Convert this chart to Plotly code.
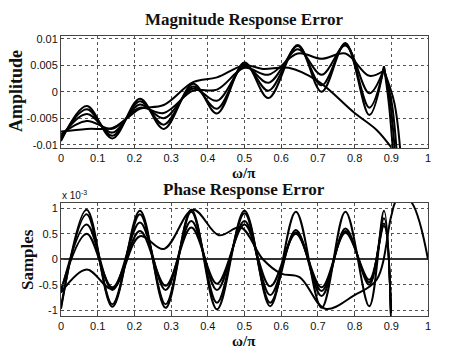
import plotly.graph_objects as go
from plotly.subplots import make_subplots

# ---- Magnitude response error (knots read at ripple extrema) ----
mag_x = [0, 0.07, 0.14, 0.215, 0.28, 0.36, 0.425, 0.5, 0.565, 0.645, 0.71, 0.775, 0.84, 0.88]
mag_a = [-0.0093, -0.0027, -0.0088, -0.0013, -0.0070, 0.0015, -0.0041, 0.0055, -0.0012, 0.0088, 0.0000, 0.0092, -0.0044, 0.0048]
mag_b = [-0.0090, -0.0033, -0.0083, -0.0018, -0.0062, 0.0010, -0.0032, 0.0052, 0.0002, 0.0086, 0.0012, 0.0090, -0.0030, 0.0046]
mag_c = [-0.0085, -0.0042, -0.0077, -0.0024, -0.0050, 0.0006, -0.0017, 0.0048, 0.0017, 0.0080, 0.0032, 0.0087, -0.0003, 0.0043]
mag_d = [-0.0080, -0.0055, -0.0070, -0.0030, -0.0040, 0.0002, 0.0004, 0.0045, 0.0032, 0.0072, 0.0062, 0.0072, 0.0030, 0.0040]
mag_tail_x = [[0.893, 0.905], [0.897, 0.91], [0.901, 0.915], [0.908, 0.925]]
mag_tail_y = [[-0.002, -0.0115], [-0.002, -0.0115], [-0.002, -0.0115], [-0.002, -0.0115]]
mag_s_x = [0, 0.07, 0.14, 0.18, 0.215, 0.28, 0.36, 0.425, 0.5, 0.55, 0.62, 0.7, 0.8, 0.86, 0.9]
mag_s = [-0.0075, -0.0070, -0.0068, -0.0050, -0.0032, -0.0025, 0.0018, 0.0027, 0.0050, 0.0043, 0.0045, 0.0020, -0.0040, -0.0072, -0.0105]

# ---- Phase response error (units of 1e-3 samples) ----
ph_x = [0, 0.07, 0.14, 0.215, 0.285, 0.355, 0.425, 0.5, 0.57, 0.64, 0.71, 0.775, 0.84, 0.88, 0.9]
ph_a = [-0.97, 0.97, -0.93, 0.95, -0.95, 0.97, -0.98, 0.95, -0.92, 0.93, -0.95, 0.93, -0.92, 0.95, -1.3]
ph_b = [-0.93, 0.88, -0.88, 0.88, -0.88, 0.93, -0.85, 0.90, -0.85, 0.57, -0.72, 0.60, -0.50, 0.80, -1.3]
ph_c = [-0.65, 0.68, -0.60, 0.72, -0.60, 0.75, -0.60, 0.75, -0.70, 0.53, -0.62, 0.55, -0.45, 0.70, -1.3]
ph_d = [-0.60, 0.50, -0.55, 0.55, -0.52, 0.62, -0.48, 0.68, -0.53, 0.50, -0.55, 0.52, -0.40, 0.65, -1.3]
ph_s_x = [0, 0.07, 0.14, 0.215, 0.28, 0.36, 0.43, 0.49, 0.55, 0.6, 0.65, 0.72, 0.8, 0.86, 0.9, 0.915, 0.95, 1.0]
ph_s = [-0.65, -0.20, -0.58, 0.45, 0.20, 0.97, 0.47, 0.62, 0.0, -0.28, -0.35, -0.97, -0.70, -0.40, 0.85, 1.15, 1.15, 0.0]

xticks = [0, 0.1, 0.2, 0.3, 0.4, 0.5, 0.6, 0.7, 0.8, 0.9, 1]
xtick_text = ["0", "0.1", "0.2", "0.3", "0.4", "0.5", "0.6", "0.7", "0.8", "0.9", "1"]
mag_ticks = [-0.01, -0.005, 0, 0.005, 0.01]
mag_tick_text = ["-0.01", "-0.005", "0", "0.005", "0.01"]
ph_ticks = [-1, -0.5, 0, 0.5, 1]
ph_tick_text = ["-1", "-0.5", "0", "0.5", "1"]

fig = make_subplots(rows=2, cols=1)
line = dict(color="black", width=2, shape="spline", smoothing=1.0)

for ys in [mag_a, mag_b, mag_c, mag_d]:
    fig.add_trace(go.Scatter(x=mag_x, y=ys, mode="lines", line=line), row=1, col=1)
for i, ys in enumerate([mag_a, mag_b, mag_c, mag_d]):
    fig.add_trace(go.Scatter(x=[mag_x[-1]] + mag_tail_x[i], y=[ys[-1]] + mag_tail_y[i],
                             mode="lines", line=line), row=1, col=1)
fig.add_trace(go.Scatter(x=mag_s_x, y=mag_s, mode="lines", line=line), row=1, col=1)

for ys in [ph_a, ph_b, ph_c, ph_d]:
    fig.add_trace(go.Scatter(x=ph_x, y=ys, mode="lines", line=line), row=2, col=1)
fig.add_trace(go.Scatter(x=ph_s_x, y=ph_s, mode="lines", line=line), row=2, col=1)

axis_common = dict(showline=True, mirror=True, linecolor="#444", linewidth=1,
                   showgrid=True, gridcolor="#555", griddash="dot", gridwidth=1,
                   ticks="inside", ticklen=3, tickcolor="#444", automargin=False,
                   tickfont=dict(family="Liberation Sans, Arial", size=11, color="#111"))

fig.update_xaxes(range=[0, 1], tickvals=xticks, ticktext=xtick_text, zeroline=False, **axis_common)
fig.update_yaxes(range=[-0.0106, 0.0105], tickvals=mag_ticks, ticktext=mag_tick_text,
                 zeroline=False, row=1, col=1, **axis_common)
fig.update_yaxes(range=[-1.11, 1.1], tickvals=ph_ticks, ticktext=ph_tick_text,
                 zeroline=True, zerolinecolor="#333", zerolinewidth=1.5, row=2, col=1, **axis_common)

fig.update_layout(
    width=474, height=355, showlegend=False,
    margin=dict(l=61, r=46, t=36, b=39),
    plot_bgcolor="white", paper_bgcolor="white",
    xaxis=dict(domain=[0, 1]), yaxis=dict(domain=[0.6, 1.0]),
    xaxis2=dict(domain=[0, 1]), yaxis2=dict(domain=[0, 0.4036]),
)

def px_x(px):
    return (px - 61) / 367.0

def px_y(py):
    return (316 - py) / 280.0

serif = dict(family="Liberation Serif, Times New Roman", size=17, color="#111")
lab = dict(family="Liberation Serif, Times New Roman", size=15, color="#111")
ann = [
    dict(text="<b>Magnitude Response Error</b>", x=px_x(244), y=px_y(20), font=serif),
    dict(text="<b>Phase Response Error</b>", x=px_x(244), y=px_y(189), font=serif),
    dict(text="<b>ω/π</b>", x=px_x(244), y=px_y(173), font=lab),
    dict(text="<b>ω/π</b>", x=px_x(244), y=px_y(341), font=lab),
    dict(text="<b>Amplitude</b>", x=px_x(16), y=px_y(91), textangle=-90,
         font=dict(family="Liberation Serif, Times New Roman", size=18, color="#111")),
    dict(text="<b>Samples</b>", x=px_x(27), y=px_y(260), textangle=-90,
         font=dict(family="Liberation Serif, Times New Roman", size=17, color="#111")),
]
for a in ann:
    fig.add_annotation(xref="paper", yref="paper", showarrow=False, xanchor="center", yanchor="middle", **a)
fig.add_annotation(xref="paper", yref="paper", showarrow=False, xanchor="left", yanchor="middle",
                   x=px_x(60), y=px_y(195), text="x 10<sup>-3</sup>",
                   font=dict(family="Liberation Sans, Arial", size=10, color="#111"))

# remove the default 8px page margin so the figure fills the 474x355 window
fig.write_html("out.html", config={"displayModeBar": False},
               post_script="document.body.style.margin='0';document.body.style.overflow='hidden';")
